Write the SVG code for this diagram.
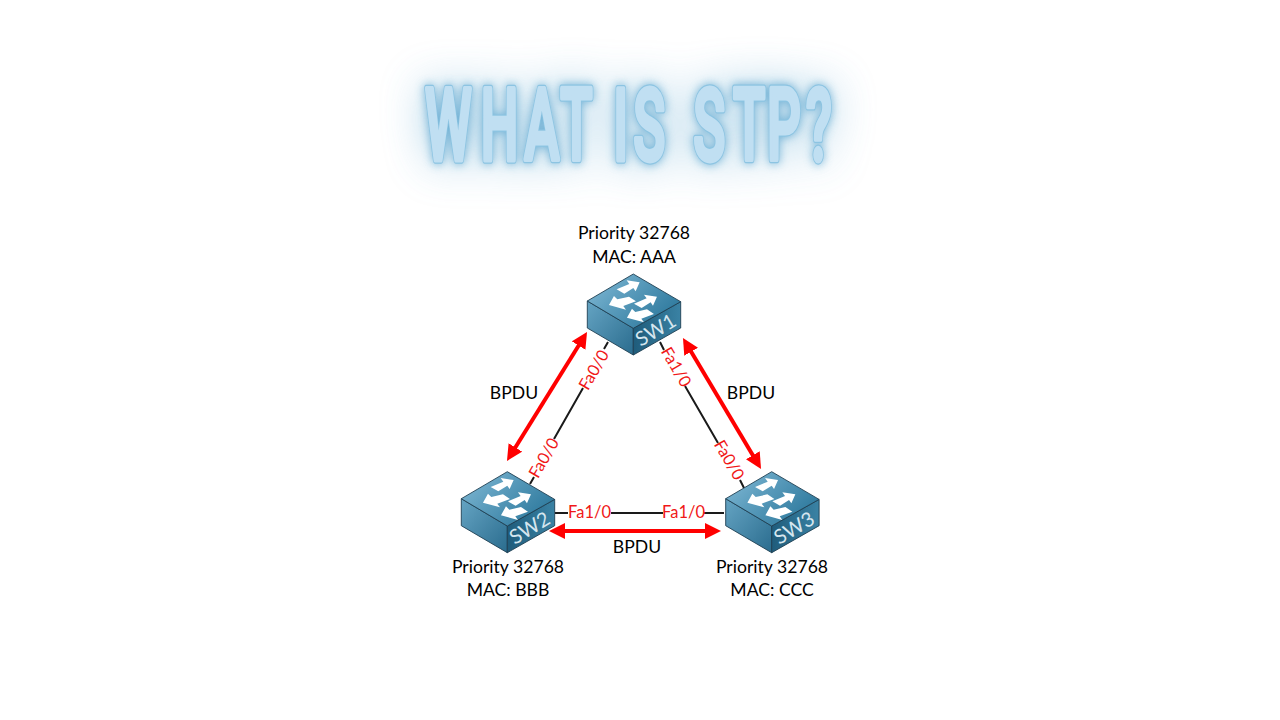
<svg xmlns="http://www.w3.org/2000/svg" width="1280" height="720" viewBox="0 0 1280 720">
<style>
.t{font-family:"Lato","Liberation Sans",sans-serif;font-size:17.6px;fill:#000;text-anchor:middle}
.p{font-family:"Lato","Liberation Sans",sans-serif;font-size:16.5px;fill:#f01818;text-anchor:middle}
.n{font-family:"Lato","Liberation Sans",sans-serif;font-size:20px;fill:#d5e6ef;text-anchor:middle}
.h{font-family:"Roboto",sans-serif;font-weight:500;font-size:100px;vector-effect:non-scaling-stroke;stroke-linejoin:round}
.k{stroke:#1a1a1a;stroke-width:2;fill:none}
.r{stroke:#f00;stroke-width:4;fill:none;marker-start:url(#ah);marker-end:url(#ah)}
.e{stroke:#1f3f52;stroke-width:.9;stroke-linejoin:round}
</style>
<defs>
<marker id="ah" markerUnits="userSpaceOnUse" markerWidth="20" markerHeight="18" refX="4" refY="8" orient="auto-start-reverse"><path d="M0 0L16 8L0 16z" fill="#f00"/></marker>
<linearGradient id="gt" x1="0" y1="0" x2="1" y2=".6"><stop offset="0" stop-color="#86bdd8"/><stop offset=".45" stop-color="#5c9dbd"/><stop offset="1" stop-color="#2f7a9e"/></linearGradient>
<linearGradient id="gl" x1="0" y1="0" x2="1" y2="1"><stop offset="0" stop-color="#65a4c3"/><stop offset="1" stop-color="#2a6c8e"/></linearGradient>
<linearGradient id="gr" x1="0" y1="0" x2="1" y2="0"><stop offset="0" stop-color="#1f5c7b"/><stop offset="1" stop-color="#3a82a4"/></linearGradient>
<filter id="g1" filterUnits="userSpaceOnUse" x="280" y="0" width="720" height="260"><feGaussianBlur stdDeviation="22"/></filter>
<filter id="g2" filterUnits="userSpaceOnUse" x="280" y="0" width="720" height="260"><feGaussianBlur stdDeviation="5"/></filter>
<text id="ttl" class="h" x="802 907 989 1057 1130 1157 1195 1265 1308 1383 1447 1521" y="0" transform="translate(0,160) scale(.53,1)">WHAT IS STP?</text>
<g id="sw">
<path class="e" fill="url(#gl)" d="M-46 27L0 54.3V81L-46 54z"/>
<path class="e" fill="url(#gr)" d="M47.4 27.7L0 54.3V81L47.4 54z"/>
<path class="e" fill="url(#gt)" d="M0 0L47.4 27.7L0 54.3L-46 27z"/>
<g fill="#fff" transform="scale(.3333) translate(-190,-27)">
<path d="M140 73L178 57L170 46L209 52L197 79L190 69L163 86z"/>
<path d="M117 120L132 93L142 103L177 95L198 109L160 123L168 134z"/>
<path d="M192 116L230 100L222 89L261 95L249 122L242 112L215 129z"/>
<path d="M171 158L186 131L196 141L231 133L252 147L214 161L222 172z"/>
</g>
</g>
</defs>
<rect width="1280" height="720" fill="#fff"/>
<g id="title">
<use href="#ttl" fill="#6aaed4" stroke="#6aaed4" stroke-width="8" filter="url(#g1)" opacity=".6"/>
<use href="#ttl" fill="#4f9fcb" stroke="#4f9fcb" stroke-width="7" filter="url(#g2)" opacity=".7"/>
<use href="#ttl" fill="#8cc4e2" stroke="#8cc4e2" stroke-width="6"/>
<use href="#ttl" fill="#c0dff2" stroke="#c0dff2" stroke-width="4"/>
</g>
<g id="connectors">
<path class="k" d="M608 342L604 349M583 388L554 439M534 477L530 484"/>
<path class="k" d="M660 342L664 350M685 386L718 443M740 480L744 488"/>
<path class="k" d="M555 513H568M611 513H663M704 513H724"/>
<line class="r" x1="580.7" y1="342.2" x2="513.3" y2="450.8"/>
<line class="r" x1="689.1" y1="348.3" x2="754.9" y2="458.7"/>
<line class="r" x1="561" y1="531" x2="709" y2="531"/>
<text class="t" x="514" y="399">BPDU</text>
<text class="t" x="751" y="399">BPDU</text>
<text class="t" x="637" y="553">BPDU</text>
<text class="p" transform="translate(594,370) rotate(-60)" y="5.5">Fa0/0</text>
<text class="p" transform="translate(544,458) rotate(-60)" y="5.5">Fa0/0</text>
<text class="p" transform="translate(676,367) rotate(60)" y="5.5">Fa1/0</text>
<text class="p" transform="translate(729,460) rotate(60)" y="5.5">Fa0/0</text>
<text class="p" x="589.5" y="518">Fa1/0</text>
<text class="p" x="683.5" y="518">Fa1/0</text>
</g>
<g id="SW1">
<use href="#sw" x="633.3" y="274"/>
<text class="n" transform="translate(655.5,330) rotate(-31)" y="7">SW1</text>
<text class="t" x="634" y="239">Priority 32768</text>
<text class="t" x="634" y="263">MAC: AAA</text>
</g>
<g id="SW2">
<use href="#sw" x="507.3" y="471.7"/>
<text class="n" transform="translate(529.5,528) rotate(-31)" y="7">SW2</text>
<text class="t" x="508" y="573">Priority 32768</text>
<text class="t" x="508" y="596">MAC: BBB</text>
</g>
<g id="SW3">
<use href="#sw" x="771.7" y="471.7"/>
<text class="n" transform="translate(794,528) rotate(-31)" y="7">SW3</text>
<text class="t" x="772" y="573">Priority 32768</text>
<text class="t" x="772" y="596">MAC: CCC</text>
</g>
</svg>
